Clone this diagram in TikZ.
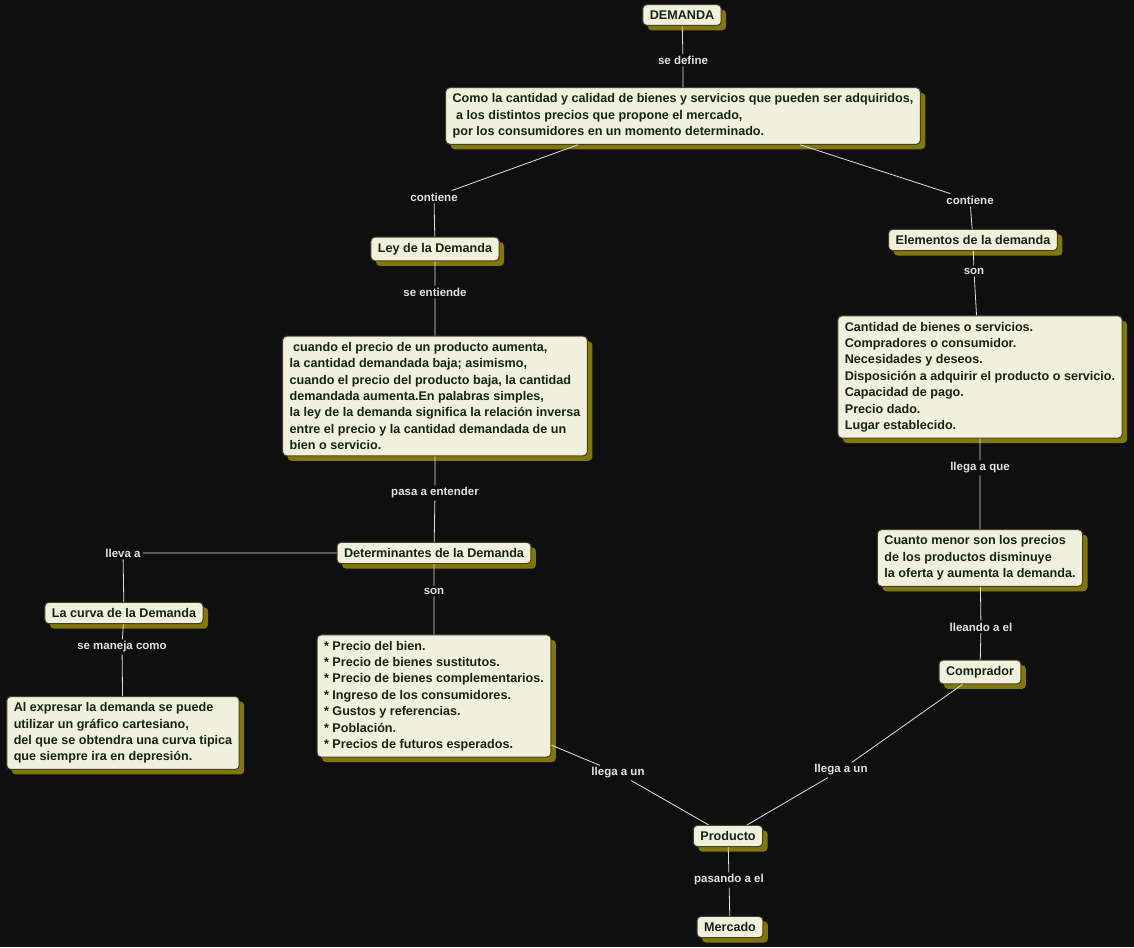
\documentclass[tikz,border=0pt]{standalone}
\usepackage{fontspec}
\setmainfont{Liberation Sans}
\usetikzlibrary{shadows}
\definecolor{bg}{RGB}{15,15,15}
\definecolor{boxfill}{RGB}{240,240,220}
\definecolor{boxtxt}{RGB}{20,35,20}
\definecolor{shad}{RGB}{130,120,10}
\definecolor{labtxt}{RGB}{225,225,225}
\begin{document}
\begin{tikzpicture}[x=1pt,y=-1pt,
  box/.style={draw=black!70!olive,line width=1pt,fill=boxfill,rounded corners=4pt,
    text=boxtxt,font=\fontsize{12.6}{16.4}\selectfont\bfseries,align=left,inner xsep=7pt,inner ysep=6pt,
    general shadow={fill=shad,shadow xshift=5pt,shadow yshift=-5pt}},
  lab/.style={text=labtxt,font=\fontsize{11.5}{13}\selectfont\bfseries,inner sep=2pt},
  ln/.style={draw=labtxt,line width=0.8pt}]
\fill[bg] (0,0) rectangle (1134,947);
\useasboundingbox (0,0) rectangle (1134,947);
\node[box] (dem) at (682,15) {DEMANDA};
\node[box] (def) at (683,116) {Como la cantidad y calidad de bienes y servicios que pueden ser adquiridos,\\ \ a los distintos precios que propone el mercado,\\por los consumidores en un momento determinado.};
\node[box] (ley) at (435,249) {Ley de la Demanda};
\node[box] (ele) at (973,240) {Elementos de la demanda};
\node[box] (cua) at (435,396) {\ cuando el precio de un producto aumenta,\\la cantidad demandada baja; asimismo,\\cuando el precio del producto baja, la cantidad\\demandada aumenta.En palabras simples,\\la ley de la demanda significa la relación inversa\\entre el precio y la cantidad demandada de un\\bien o servicio.};
\node[box] (can) at (980,377) {Cantidad de bienes o servicios.\\Compradores o consumidor.\\Necesidades y deseos.\\Disposición a adquirir el producto o servicio.\\Capacidad de pago.\\Precio dado.\\Lugar establecido.};
\node[box] (men) at (980,558) {Cuanto menor son los precios\\de los productos disminuye\\la oferta y aumenta la demanda.};
\node[box] (det) at (434,553) {Determinantes de la Demanda};
\node[box] (cur) at (124,613) {La curva de la Demanda};
\node[box] (alx) at (123,733) {Al expresar la demanda se puede\\utilizar un gráfico cartesiano,\\del que se obtendra una curva tipica\\que siempre ira en depresión.};
\node[box] (pre) at (434,696) {* Precio del bien.\\* Precio de bienes sustitutos.\\* Precio de bienes complementarios.\\* Ingreso de los consumidores.\\* Gustos y referencias.\\* Población.\\* Precios de futuros esperados.};
\node[box] (com) at (980,672) {Comprador};
\node[box] (pro) at (728,836) {Producto};
\node[box] (mer) at (730,927) {Mercado};
\node[lab] (l1) at (683,60) {se define};
\node[lab] (l2) at (434,197) {contiene};
\node[lab] (l3) at (970,200) {contiene};
\node[lab] (l4) at (435,292) {se entiende};
\node[lab] (l5) at (974,271) {son};
\node[lab] (l6) at (435,493) {pasa a entender};
\node[lab] (l7) at (980,468) {llega a que};
\node[lab] (l8) at (434,591) {son};
\node[lab] (l9) at (123,553) {lleva a};
\node[lab] (l10) at (122,647) {se maneja como};
\node[lab] (l11) at (981,627) {lleando a el};
\node[lab] (l12) at (618,773) {llega a un};
\node[lab] (l13) at (841,770) {llega a un};
\node[lab] (l14) at (729,880) {pasando a el};
\coordinate (da) at ([xshift=-105pt]def.south);
\coordinate (db) at ([xshift=117pt]def.south);
\path[ln] (dem) -- (l1) (l1) -- (def)
 (da) -- (l2) (l2) -- (ley) (db) -- (l3) (l3) -- (ele)
 (ley) -- (l4) (l4) -- (cua) (cua) -- (l6) (l6) -- (det)
 (ele) -- (l5) (l5) -- (can) (can) -- (l7) (l7) -- (men)
 (men) -- (l11) (l11) -- (com)
 (det) -- (l8) (l8) -- (pre)
 (det.west) -- (l9.east) (l9) -- (cur) (cur) -- (l10) (l10) -- (alx)
 (pre) -- (l12) (l12) -- (pro) (com) -- (l13) (l13) -- (pro)
 (pro) -- (l14) (l14) -- (mer);
\end{tikzpicture}
\end{document}
